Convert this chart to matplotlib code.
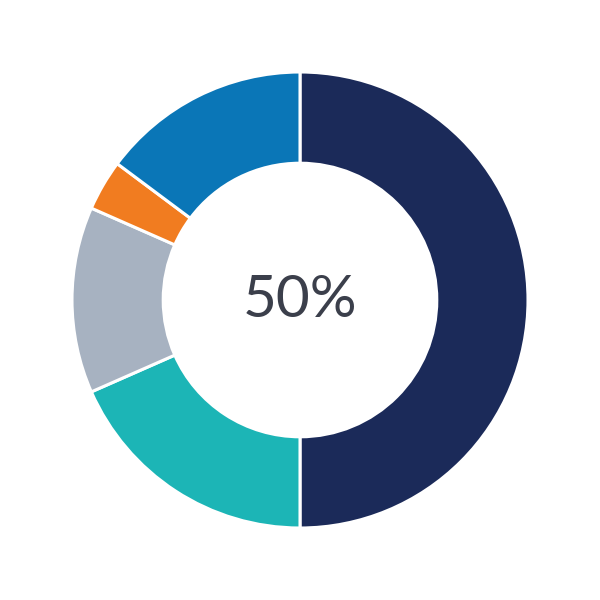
import matplotlib
matplotlib.use("Agg")
import matplotlib.pyplot as plt

labels = ["Navy", "Teal", "Gray", "Orange", "Blue"]
values = [50.0, 18.4, 13.2, 3.6, 14.8]
colors = ["#1b2a59", "#1cb5b6", "#a7b2c1", "#f17c20", "#0a76b7"]
center_text = "50%"

fig = plt.figure(figsize=(6, 6), dpi=100)
ax = fig.add_axes([0, 0, 1, 1])
ax.pie(values, colors=colors, startangle=90, counterclock=False, radius=1.0,
       wedgeprops=dict(width=0.4, edgecolor="white", linewidth=2.2))
lim = 300 / 228
ax.set_xlim(-lim, lim)
ax.set_ylim(-lim, lim)
ax.set_aspect("equal")
ax.axis("off")
ax.text(0, 0, center_text, ha="center", va="center", fontsize=42,
        family="Lato", color="#3b3f4b")
fig.savefig("out.png", dpi=100, facecolor="white")
